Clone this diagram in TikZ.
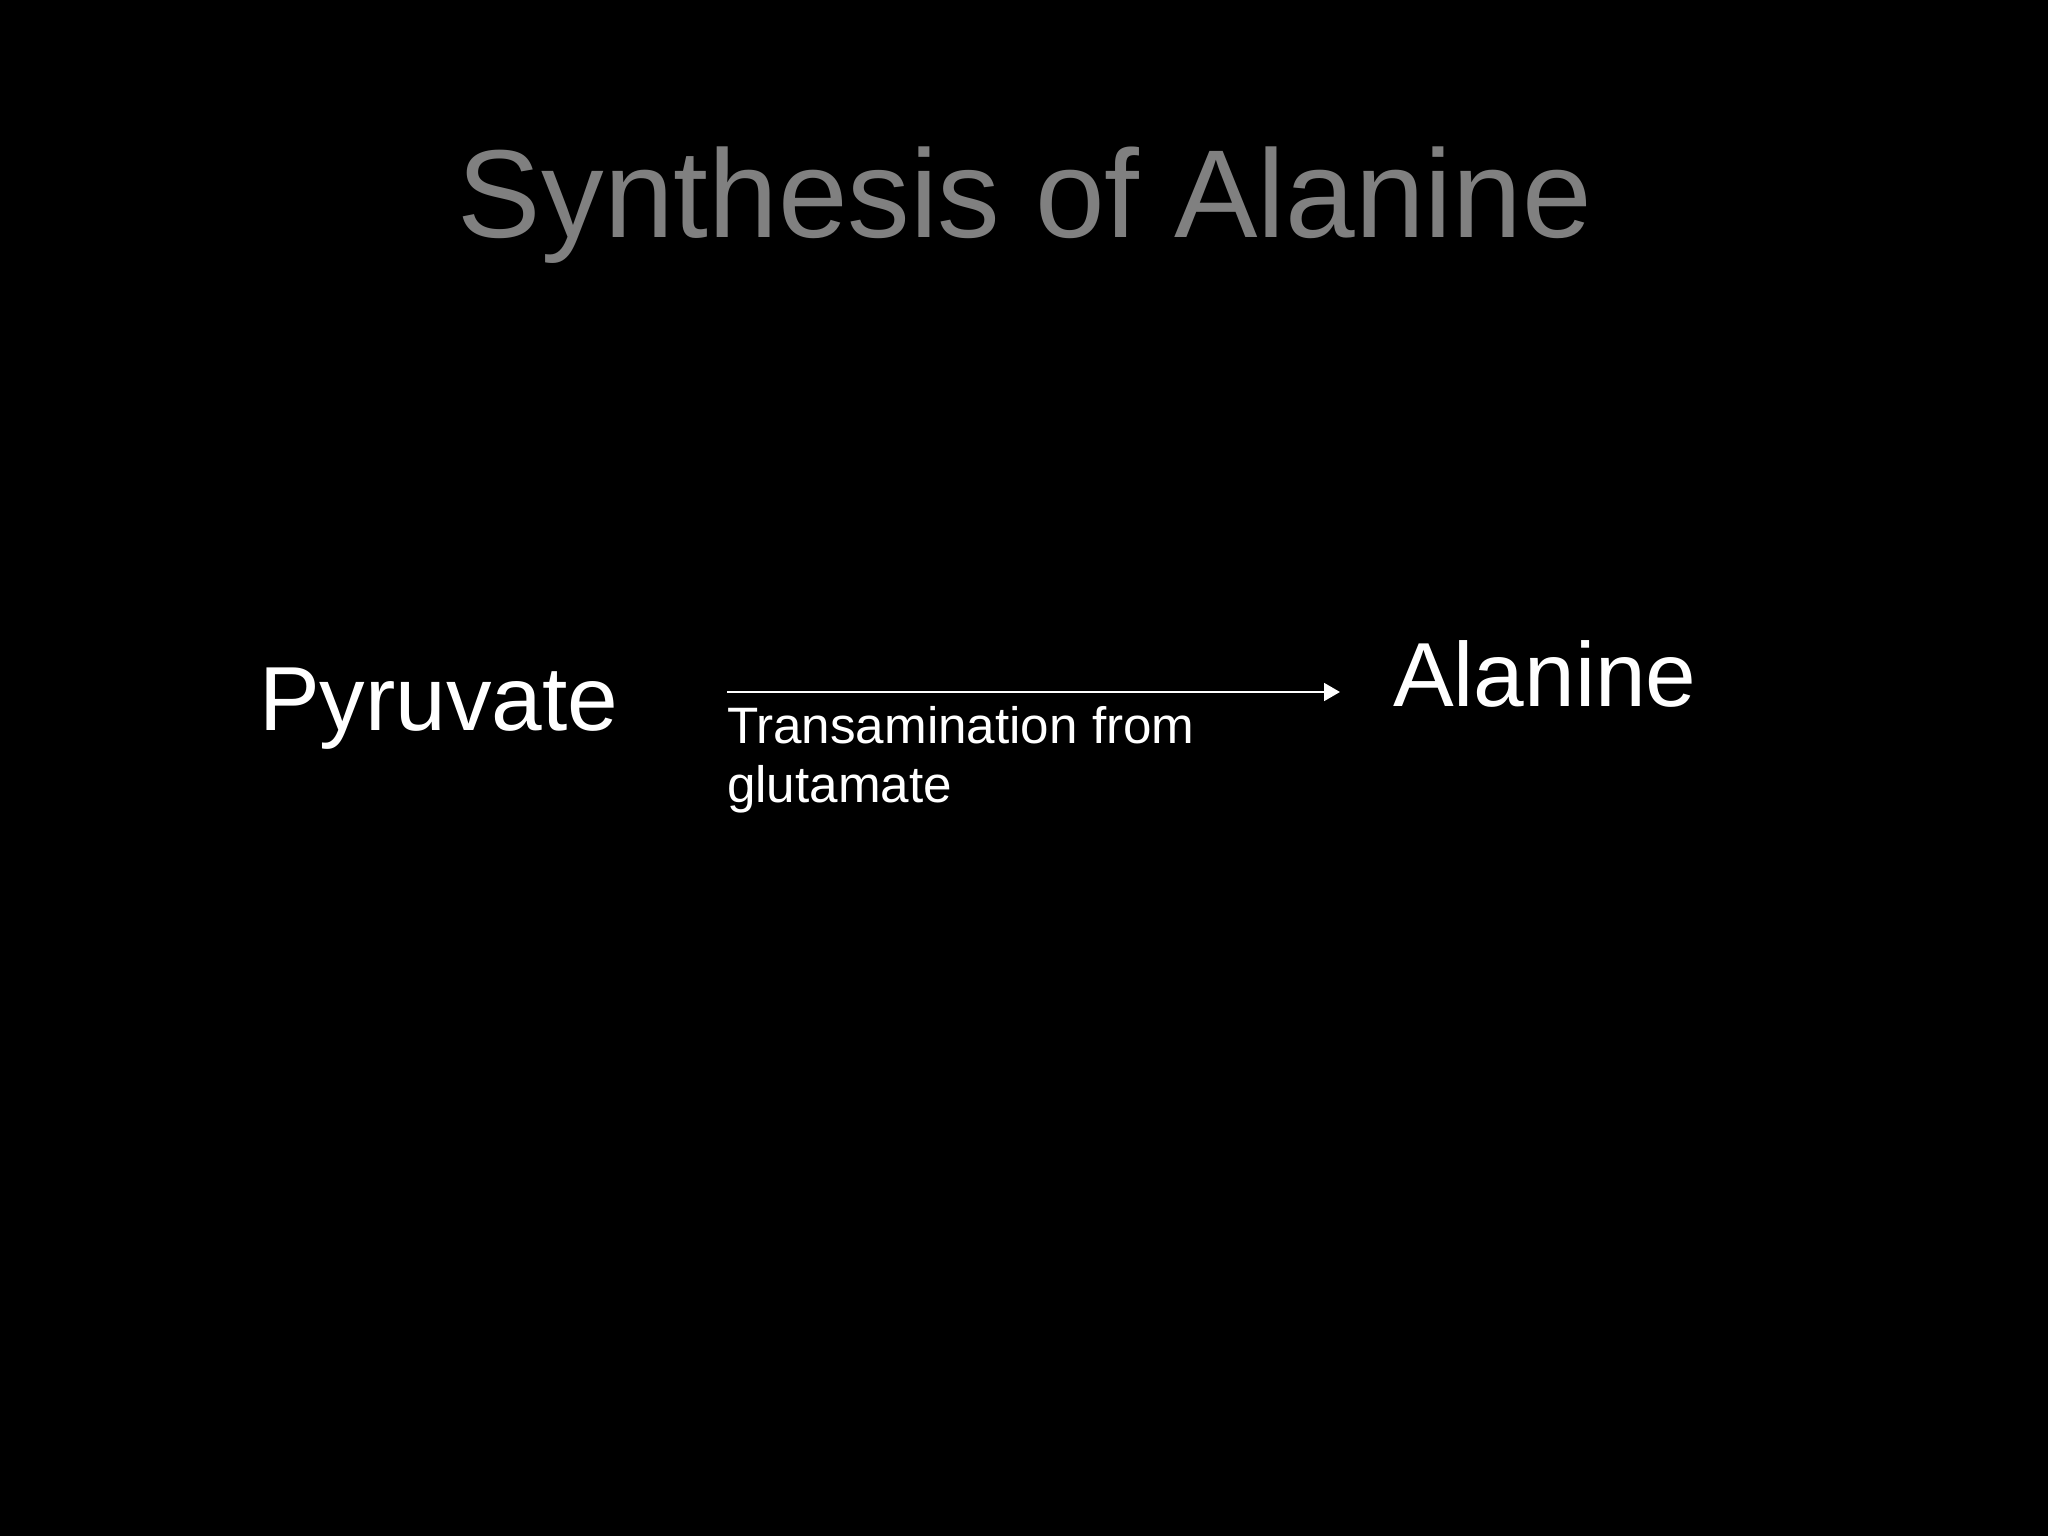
\documentclass[tikz,border=0pt]{standalone}
\usepackage{fontspec}
\setmainfont{Liberation Sans}
\usetikzlibrary{arrows.meta}
\definecolor{titlegray}{RGB}{128,128,128}
\tikzset{
  txt/.style={anchor=base west, inner sep=0pt, outer sep=0pt, text=white},
  big/.style={txt, font=\fontsize{32}{38}\selectfont},
  lab/.style={txt, font=\fontsize{18}{20.7}\selectfont, align=left},
  conn/.style={draw=white, line width=1pt, -{Triangle[length=5.6pt,width=6.2pt]}}
}
\begin{document}
\begin{tikzpicture}[x=0.3515625pt, y=-0.3515625pt]
  \fill[black] (0,0) rectangle (2048,1536);
  \useasboundingbox (0,0) rectangle (2048,1536);
  \node[anchor=base, inner sep=0pt, text=titlegray, font=\fontsize{44}{52}\selectfont] (title) at (1025,238) {Synthesis of Alanine};
  \node[big] (pyr) at (259,731) {Pyruvate};
  \node[big] (ala) at (1393,707) {Alanine};
  \coordinate (a1) at (727,692);
  \coordinate (a2) at (1340,692);
  \draw[conn] (a1) -- (a2);
  \node[lab] (lbl) at (727,802) {Transamination from\\glutamate};
\end{tikzpicture}
\end{document}
